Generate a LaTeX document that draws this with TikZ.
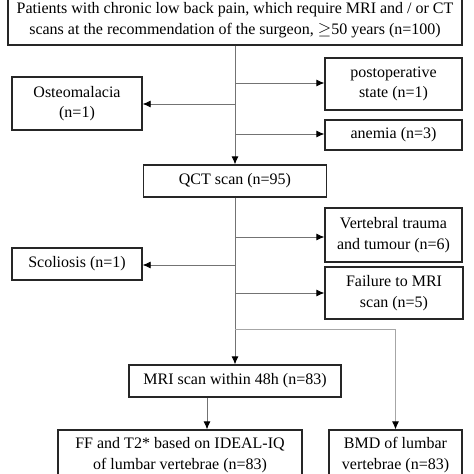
\documentclass[tikz,border=0pt]{standalone}
\usepackage{fontspec}
\setmainfont{Liberation Serif}
\usetikzlibrary{arrows.meta}
\begin{document}
\begin{tikzpicture}[x=1pt,y=-1pt,
  box/.style={draw=black!85,line width=1.3pt,inner sep=0pt,align=center,font=\fontsize{16}{20.5}\selectfont},
  arr/.style={draw=black!55,line width=0.8pt,-{Latex[length=8pt,width=7pt,black]}},
  ln/.style={draw=black!55,line width=0.8pt}]
  \useasboundingbox (0,0) rectangle (474,474);
  \node[box,minimum width=454pt,minimum height=50pt] (top) at (235,20) {Patients with chronic low back pain, which require MRI and / or CT\\scans at the recommendation of the surgeon, $\geq$50 years (n=100)};
  \node[box,minimum width=130pt,minimum height=53pt] (osteo) at (77,103.5) {Osteomalacia\\(n=1)};
  \node[box,minimum width=137pt,minimum height=52pt] (postop) at (393.5,84) {postoperative\\state (n=1)};
  \node[box,minimum width=137pt,minimum height=30pt] (anemia) at (393.5,135) {anemia (n=3)};
  \node[box,minimum width=183pt,minimum height=32pt] (qct) at (235,181) {QCT scan (n=95)};
  \node[box,minimum width=137pt,minimum height=54pt] (trauma) at (393.5,235) {Vertebral trauma\\and tumour (n=6)};
  \node[box,minimum width=130pt,minimum height=32pt] (scol) at (77,264) {Scoliosis (n=1)};
  \node[box,minimum width=138pt,minimum height=52pt] (fail) at (394,293) {Failure to MRI\\scan (n=5)};
  \node[box,minimum width=212pt,minimum height=32pt] (mri) at (235,381) {MRI scan within 48h (n=83)};
  \node[box,minimum width=244pt,minimum height=50pt] (ff) at (180,455) {FF and T2* based on IDEAL-IQ\\of lumbar vertebrae (n=83)};
  \node[box,minimum width=133pt,minimum height=50pt] (bmd) at (395.5,455) {BMD of lumbar\\vertebrae (n=83)};
  % branch points
  \coordinate (b1) at (235,83);
  \coordinate (b2) at (235,104);
  \coordinate (b3) at (235,134);
  \coordinate (c1) at (235,237);
  \coordinate (c2) at (235,265);
  \coordinate (c3) at (235,293);
  \coordinate (c4) at (235,329);
  \draw[arr] (top.south) -- (qct.north);
  \draw[arr] (b1) -- (b1 -| postop.west);
  \draw[arr] (b2) -- (b2 -| osteo.east);
  \draw[arr] (b3) -- (b3 -| anemia.west);
  \draw[arr] (qct.south) -- (mri.north);
  \draw[arr] (c1) -- (c1 -| trauma.west);
  \draw[arr] (c2) -- (c2 -| scol.east);
  \draw[arr] (c3) -- (c3 -| fail.west);
  \draw[ln,draw=black!35] (c4) -- (c4 -| bmd.north);
  \draw[arr,draw=black!35] (c4 -| bmd.north) -- (bmd.north);
  \draw[arr] (mri.south -| 207,0) -- (ff.north -| 207,0);
\end{tikzpicture}
\end{document}
